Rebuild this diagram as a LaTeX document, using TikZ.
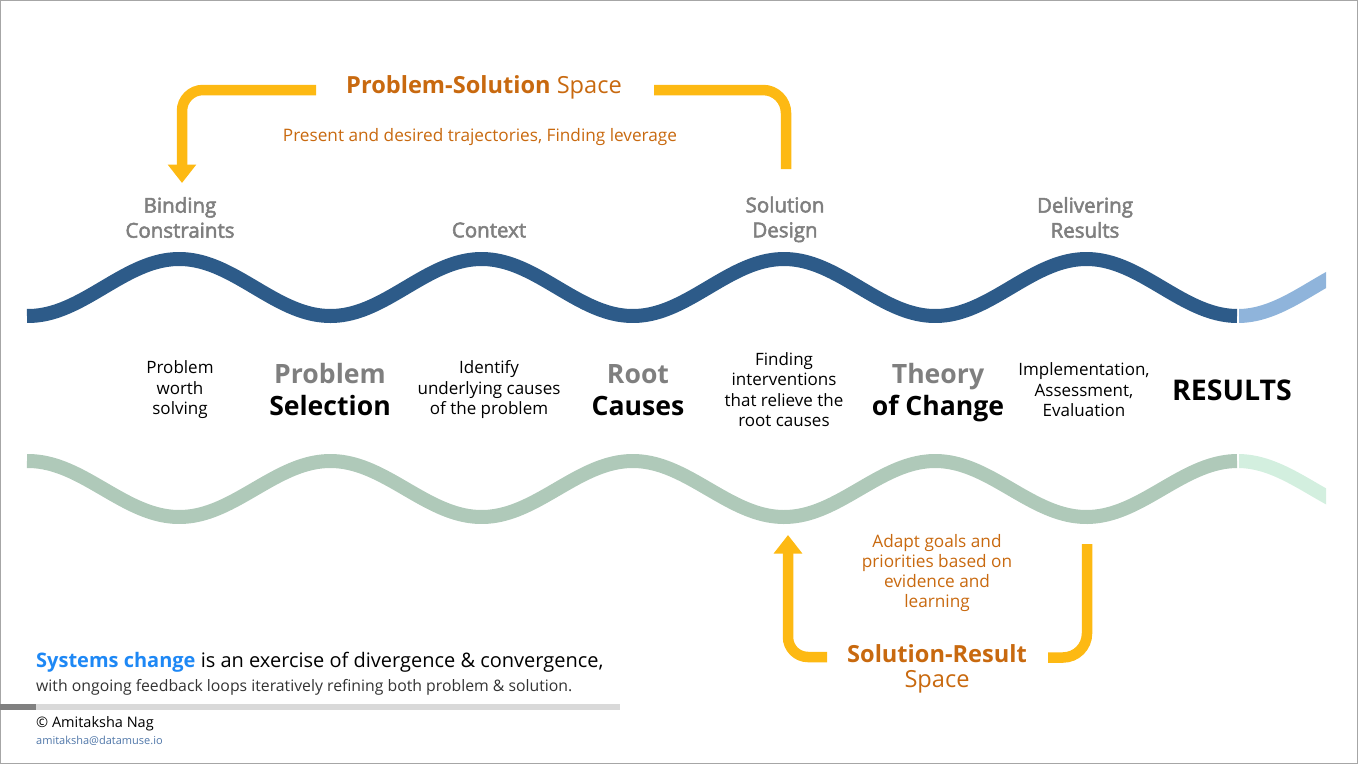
\documentclass[tikz,border=0pt]{standalone}
\usepackage{fontspec}
\setmainfont{Open Sans}
\newfontfamily\medfont[FakeBold=2.5]{Open Sans}
\usetikzlibrary{arrows.meta}
\definecolor{wavedark}{HTML}{2D5B89}
\definecolor{wavelight}{HTML}{8FB4DB}
\definecolor{wavegreen}{HTML}{AFC9B9}
\definecolor{wavegreenlt}{HTML}{D3EFDF}
\definecolor{gold}{HTML}{FDB913}
\definecolor{orangetxt}{HTML}{C8690F}
\definecolor{lblgray}{HTML}{7F7F7F}
\definecolor{sysblue}{HTML}{1E88F5}
\definecolor{subgray}{HTML}{333333}
\definecolor{mailblue}{HTML}{4F76A8}
\definecolor{bardark}{HTML}{808080}
\definecolor{barlight}{HTML}{D9D9D9}
\definecolor{frame}{HTML}{A6A6A6}
\begin{document}
\begin{tikzpicture}[x=1pt,y=-1pt,
  wavestroke/.style={line width=14pt, line cap=butt},
  stagelbl/.style={font=\medfont\fontsize{20.5}{25}\selectfont, text=lblgray, align=center, inner sep=0pt},
  desc/.style={font=\fontsize{17}{20.5}\selectfont, text=black, align=center, inner sep=0pt},
  bigtxt/.style={font=\bfseries\fontsize{26.6}{32}\selectfont, text=black, align=center, inner sep=0pt},
  orangetitle/.style={font=\fontsize{23.6}{25}\selectfont, text=orangetxt, align=center, inner sep=0pt},
  orangedesc/.style={font=\fontsize{17.2}{20.3}\selectfont, text=orangetxt, align=center, inner sep=0pt},
  goldline/.style={draw=gold, line width=10.5pt, line cap=butt},
  goldtip/.style={-{Triangle[width=27.5pt,length=18.5pt]}},
  footer/.style={anchor=base west, inner sep=0pt}
]
\useasboundingbox (0,0) rectangle (1358,764);
\draw[frame, line width=1.2pt] (0.6,0.6) rectangle (1357.4,763.4);

% top wave (divergence)
\draw[wavestroke, wavedark] plot[domain=27:1237, samples=300] (\x,{287.5+28.5*cos((\x-28)/302.4*360)});
\begin{scope}
\clip (1239,200) rectangle (1326,360);
\draw[wavestroke, wavelight] plot[domain=1239:1345, samples=60] (\x,{287.5+28.5*cos((\x-28)/302.4*360)});
\end{scope}
% bottom wave (convergence)
\draw[wavestroke, wavegreen] plot[domain=27:1237, samples=300] (\x,{489-28*cos((\x-28)/302.4*360)});
\begin{scope}
\clip (1239,420) rectangle (1326,560);
\draw[wavestroke, wavegreenlt] plot[domain=1239:1345, samples=60] (\x,{489-28*cos((\x-28)/302.4*360)});
\end{scope}

% stage labels above
\node[stagelbl] (bc) at (180,217.5) {Binding\\Constraints};
\node[stagelbl] (ctx) at (489,230) {Context};
\node[stagelbl] (sd) at (785,219.5) {Solution\\Design};
\node[stagelbl] (dr) at (1085,217.5) {Delivering\\Results};

% middle row
\node[desc] (pws) at (180,390) {Problem\\worth\\solving};
\node[bigtxt] (ps) at (330,390) {{\color{lblgray}Problem}\\Selection};
\node[desc] (iuc) at (489,390) {Identify\\underlying causes\\of the problem};
\node[bigtxt] (rc) at (638,390) {{\color{lblgray}Root}\\Causes};
\node[desc] (fi) at (784,389.5) {Finding\\interventions\\that relieve the\\root causes};
\node[bigtxt] (toc) at (938,393) {{\color{lblgray}Theory}\\of Change};
\node[desc] (iae) at (1084,390) {Implementation,\\Assessment,\\Evaluation};
\node[bigtxt, font=\bfseries\fontsize{28.5}{32}\selectfont] (res) at (1232,390) {RESULTS};

% problem-solution space
\node[orangetitle] (pss) at (484,87) {\textbf{Problem-Solution} Space};
\node[orangedesc] (pdt) at (480,137) {Present and desired trajectories, Finding leverage};
\coordinate (psl) at (316,90);
\coordinate (bctip) at (182,183);
\coordinate (psr) at (654,90);
\coordinate (sdtop) at (786,169);
\draw[goldline, goldtip, rounded corners=21pt] (psl) -- (182,90) -- (bctip);
\draw[goldline, rounded corners=23pt] (psr) -- (786,90) -- (sdtop);

% solution-result space
\node[orangedesc] (agp) at (937,573) {Adapt goals and\\priorities based on\\evidence and\\learning};
\node[orangetitle] (srs) at (937,668.5) {\textbf{Solution-Result}\\Space};
\coordinate (srl) at (827,657);
\coordinate (wtip) at (788,535);
\coordinate (srr) at (1048,657.5);
\coordinate (wtop) at (1087,544);
\draw[goldline, goldtip, rounded corners=20pt] (srl) -- (788,657) -- (wtip);
\draw[goldline, rounded corners=24pt] (srr) -- (1087,657.5) -- (wtop);

% footer
\node[footer, font=\fontsize{20}{24}\selectfont] (sys) at (36,667) {{\bfseries\color{sysblue}Systems change} is an exercise of divergence \& convergence,};
\node[footer, font=\fontsize{15.8}{18}\selectfont, text=subgray] (sub) at (36,691) {with ongoing feedback loops iteratively refining both problem \& solution.};
\fill[barlight] (36,704) rectangle (620,709.5);
\fill[bardark] (0,704) rectangle (36,709.5);
\node[footer, font=\fontsize{14.5}{16}\selectfont] (cpy) at (36,727.5) {© Amitaksha Nag};
\node[footer, font=\fontsize{11}{13}\selectfont, text=mailblue] (mail) at (36,744.5) {amitaksha@datamuse.io};
\end{tikzpicture}
\end{document}
